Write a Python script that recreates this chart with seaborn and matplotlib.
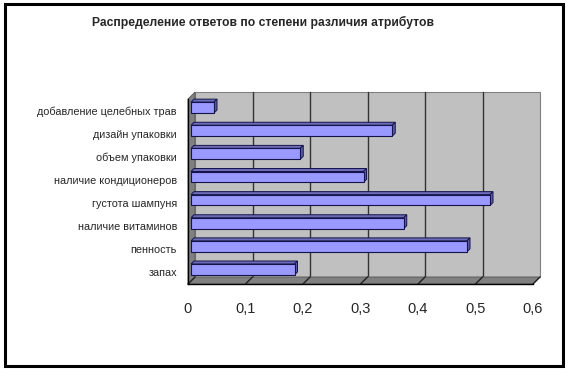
import matplotlib
matplotlib.use("Agg")
import matplotlib.pyplot as plt
import seaborn as sns
from matplotlib.patches import Rectangle, Polygon
from matplotlib.transforms import offset_copy, IdentityTransform

title = "Распределение ответов по степени различия атрибутов"
categories = [
    "добавление целебных трав",
    "дизайн упаковки",
    "объем упаковки",
    "наличие кондиционеров",
    "густота шампуня",
    "наличие витаминов",
    "пенность",
    "запах",
]
values = [0.04, 0.35, 0.19, 0.30, 0.52, 0.37, 0.48, 0.18]
xticks = [0, 0.1, 0.2, 0.3, 0.4, 0.5, 0.6]
xtick_labels = ["0", "0,1", "0,2", "0,3", "0,4", "0,5", "0,6"]

sns.set_style("white")
plt.rcParams["font.family"] = ["Liberation Sans", "DejaVu Sans"]

W, H = 569, 370
fig = plt.figure(figsize=(W / 100, H / 100), dpi=100)
fig.patch.set_facecolor("white")

# front plane of the 3d box
ax = fig.add_axes([188 / W, (H - 284) / H, 345 / W, 185 / H])
ax.set_facecolor("none")

sns.barplot(x=values, y=categories, orient="h", color="#9999ff", saturation=1,
            edgecolor="#14144a", linewidth=0.8, width=0.47, ax=ax, zorder=5)
bars = list(ax.patches)

ax.set_xlim(0, 0.6)
ax.set_ylim(len(categories) - 0.5, -0.5)
ax.set_xticks(xticks)
ax.set_xticklabels(xtick_labels, fontsize=10.5)
ax.set_yticks(range(len(categories)))
ax.set_yticklabels(categories, fontsize=7.8)
ax.set_yticks([i - 0.5 for i in range(len(categories) + 1)], minor=True)
ax.tick_params(axis="x", direction="out", length=5, width=1.3, pad=8, color="black")
ax.tick_params(axis="y", which="major", length=0, pad=8)
ax.tick_params(axis="y", which="minor", direction="out", length=4, width=1.2, color="black")
ax.set_xlabel("")
ax.set_ylabel("")
for s in ["top", "right"]:
    ax.spines[s].set_visible(False)
for s in ["left", "bottom"]:
    ax.spines[s].set_color("black")
    ax.spines[s].set_linewidth(1.0)
    ax.spines[s].set_zorder(6)

depth = 7
# back wall
back = offset_copy(ax.transAxes, fig=fig, x=depth, y=depth, units="dots")
ax.add_patch(Rectangle((0, 0), 1, 1, transform=back, facecolor="#c0c0c0",
                       edgecolor="#808080", lw=0.8, zorder=0, clip_on=False))
back_grid = offset_copy(ax.get_xaxis_transform(), fig=fig, x=depth, y=depth, units="dots")
for t in xticks[1:-1]:
    ax.plot([t, t], [0, 1], transform=back_grid, color="#333333", lw=1.0,
            zorder=1, clip_on=False)

ident = IdentityTransform()
(fx0, fy0), (fx1, fy1) = ax.transAxes.transform([(0, 0), (1, 1)])
# floor
ax.add_patch(Polygon([(fx0, fy0), (fx1, fy0), (fx1 + depth, fy0 + depth), (fx0 + depth, fy0 + depth)],
                     closed=True, transform=ident, facecolor="#808080", edgecolor="#555555",
                     lw=0.6, zorder=2, clip_on=False))
# left wall
ax.add_patch(Polygon([(fx0, fy0), (fx0, fy1), (fx0 + depth, fy1 + depth), (fx0 + depth, fy0 + depth)],
                     closed=True, transform=ident, facecolor="#808080", edgecolor="#555555",
                     lw=0.6, zorder=2, clip_on=False))
for t in xticks:
    px, py = ax.transData.transform((t, ax.get_ylim()[0]))
    ax.plot([px, px + depth], [py, py + depth], transform=ident, color="#222222",
            lw=1.0, zorder=3, clip_on=False)

# 3d bars: front face shifted a little into the box, plus top and side faces
bshift = 3
bd = 3
bar_tr = offset_copy(ax.transData, fig=fig, x=bshift, y=bshift, units="dots")
for p in bars:
    x0, y0 = p.get_x(), p.get_y()
    pts = bar_tr.transform([(x0, y0), (x0 + p.get_width(), y0 + p.get_height())])
    p.set_transform(bar_tr)
    xa, xb = sorted(pts[:, 0])
    ya, yb = sorted(pts[:, 1])
    ax.add_patch(Polygon([(xa, yb), (xb, yb), (xb + bd, yb + bd), (xa + bd, yb + bd)],
                         closed=True, transform=ident, facecolor="#6b6bb8",
                         edgecolor="#14144a", lw=0.7, zorder=4, clip_on=False))
    ax.add_patch(Polygon([(xb, ya), (xb, yb), (xb + bd, yb + bd), (xb + bd, ya + bd)],
                         closed=True, transform=ident, facecolor="#5c5ca8",
                         edgecolor="#14144a", lw=0.7, zorder=4, clip_on=False))

fig.text(263 / W, 1 - 22 / H, title, ha="center", va="center",
         fontsize=8.7, fontweight="bold")

# outer chart border
fig.add_artist(Rectangle((5 / W, 4 / H), 558 / W, 362 / H, transform=fig.transFigure,
                         fill=False, lw=2.2, edgecolor="black"))

fig.savefig("out.png", dpi=100)
